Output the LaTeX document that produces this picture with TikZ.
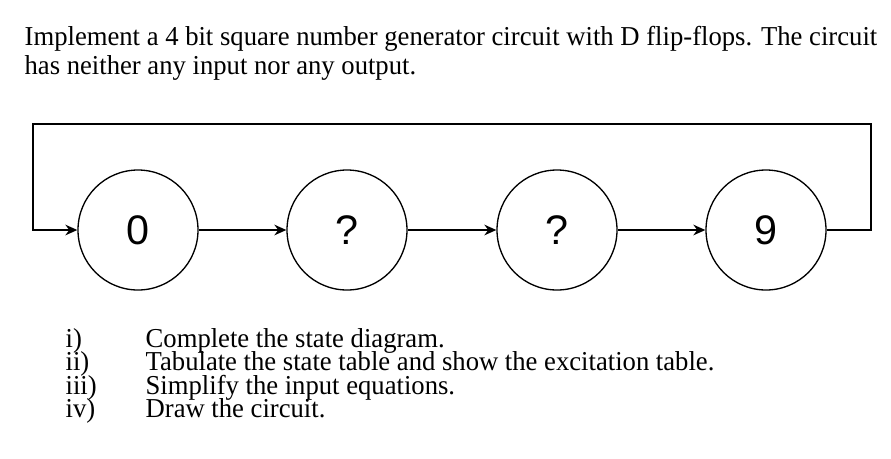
\documentclass[tikz,border=0pt]{standalone}
\usepackage{fontspec}
\setmainfont{Liberation Serif}
\newfontfamily\statefont{Liberation Sans}
\newfontfamily\qfont[FakeStretch=0.975]{Liberation Serif}
\usetikzlibrary{automata,positioning,arrows.meta}

\begin{document}
\begin{tikzpicture}[x=0.75pt,y=-0.75pt,>={Stealth[length=9pt,width=8pt]},line width=1pt,
	every state/.style={draw,minimum size=90pt,inner sep=0pt,font=\statefont\fontsize{31}{31}\selectfont},
	qtext/.style={anchor=base west,inner sep=0pt,font=\qfont\fontsize{20.5}{24}\selectfont}]
		\useasboundingbox (0,0) rectangle (891,458);

		% question
		\node[qtext] (q1) at (24,45) {Implement a 4 bit square number generator circuit with D flip-flops. The circuit};
		\node[qtext] (q2) at (24,74) {has neither any input nor any output.};

		% states
		\draw (138,230) node[state] (s0) {0};
		\draw (347,230) node[state] (s1) {?};
		\draw (557,230) node[state] (s2) {?};
		\draw (766,230) node[state] (s9) {9};

		\coordinate (tr) at (871,124);
		\coordinate (tl) at (33,124);

		\path[->]
			(s0) edge (s1)
			(s1) edge (s2)
			(s2) edge (s9);
		\draw[->] (s9.east) -| (tr) -- (tl) |- (s0.west);

		% tasks
		\node[qtext] (n1) at (65,347) {i)};
		\node[qtext] (n2) at (65,370.5) {ii)};
		\node[qtext] (n3) at (65,394) {iii)};
		\node[qtext] (n4) at (65,417.5) {iv)};
		\node[qtext] (t1) at (145,347) {Complete the state diagram.};
		\node[qtext] (t2) at (145,370.5) {Tabulate the state table and show the excitation table.};
		\node[qtext] (t3) at (145,394) {Simplify the input equations.};
		\node[qtext] (t4) at (145,417.5) {Draw the circuit.};
\end{tikzpicture}
\end{document}
